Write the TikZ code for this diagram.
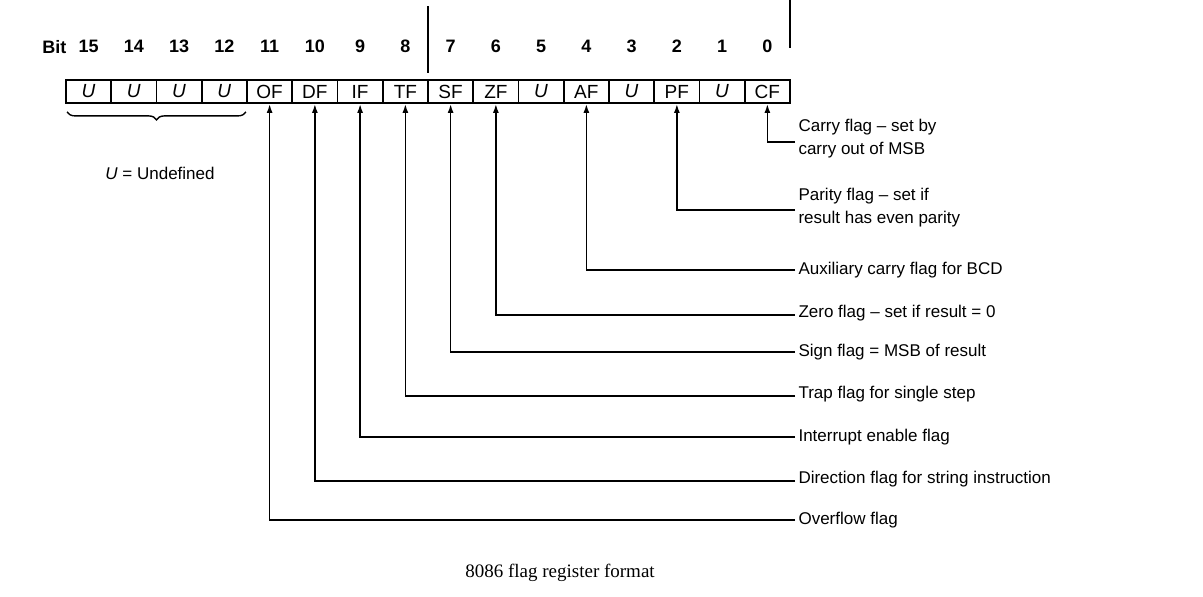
\documentclass[tikz,border=0pt]{standalone}
\usepackage{fontspec}
\setmainfont{Liberation Sans}
\newfontfamily\capfont{Liberation Serif}
\usetikzlibrary{decorations.pathreplacing,arrows.meta}
\begin{document}
\begin{tikzpicture}[x=1pt,y=-1pt,
  cell/.style={draw,line width=1.8pt,minimum width=45.25pt,minimum height=23pt,inner sep=0pt,font=\fontsize{19}{19}\selectfont},
  lbl/.style={anchor=west,align=left,font=\fontsize{17}{23}\selectfont},
  bitn/.style={font=\bfseries\fontsize{18}{18}\selectfont},
  con/.style={line width=1.6pt,-{Latex[length=9pt,width=6pt]}}]
\useasboundingbox (0,0) rectangle (1203,597);
\def\names{{"\textit{U}","\textit{U}","\textit{U}","\textit{U}","OF","DF","IF","TF","SF","ZF","\textit{U}","AF","\textit{U}","PF","\textit{U}","CF"}}
\def\bits{{"15","14","13","12","11","10","9","8","7","6","5","4","3","2","1","0"}}
\foreach \i in {0,...,15}{
  \pgfmathsetmacro\cx{66+45.25*(\i+0.5)}
  \node[cell] (c\i) at (\cx,91.5) {\pgfmathparse{\names[\i]}\pgfmathresult};
  \node[bitn] (b\i) at (\cx,46) {\pgfmathparse{\bits[\i]}\pgfmathresult};
}
\node[bitn,anchor=east] (bit) at (70,47) {Bit};
\draw[line width=2pt] (428,6) -- (428,73);
\draw[line width=2pt] (790,0) -- (790,48);
\draw[line width=1.4pt,decorate,decoration={brace,mirror,amplitude=8pt}] ([xshift=2pt,yshift=-8pt]c0.south west) -- ([xshift=-2pt,yshift=-8pt]c3.south east);
\node[font=\fontsize{17}{17}\selectfont] (und) at (160,173) {\textit{U} = Undefined};
% labels
\node[lbl] (lcf) at (795,139) {Carry flag -- set by\\ carry out of MSB};
\node[lbl] (lpf) at (795,208) {Parity flag -- set if\\ result has even parity};
\node[lbl] (laf) at (795,270) {Auxiliary carry flag for BCD};
\node[lbl] (lzf) at (795,313) {Zero flag -- set if result = 0};
\node[lbl] (lsf) at (795,352) {Sign flag = MSB of result};
\node[lbl] (ltf) at (795,394) {Trap flag for single step};
\node[lbl] (lif) at (795,437) {Interrupt enable flag};
\node[lbl] (ldf) at (795,479) {Direction flag for string instruction};
\node[lbl] (lof) at (795,520) {Overflow flag};
\foreach \c/\l/\y in {15/lcf/142,13/lpf/210,11/laf/270,9/lzf/315,8/lsf/352,7/ltf/396,6/lif/437,5/ldf/481,4/lof/520}{
  \draw[con] (\l.west |- 0,\y) -- (c\c.south |- 0,\y) -- (c\c.south);
}
\node[font=\capfont\fontsize{19}{19}\selectfont] (cap) at (560,573) {8086 flag register format};
\end{tikzpicture}
\end{document}
